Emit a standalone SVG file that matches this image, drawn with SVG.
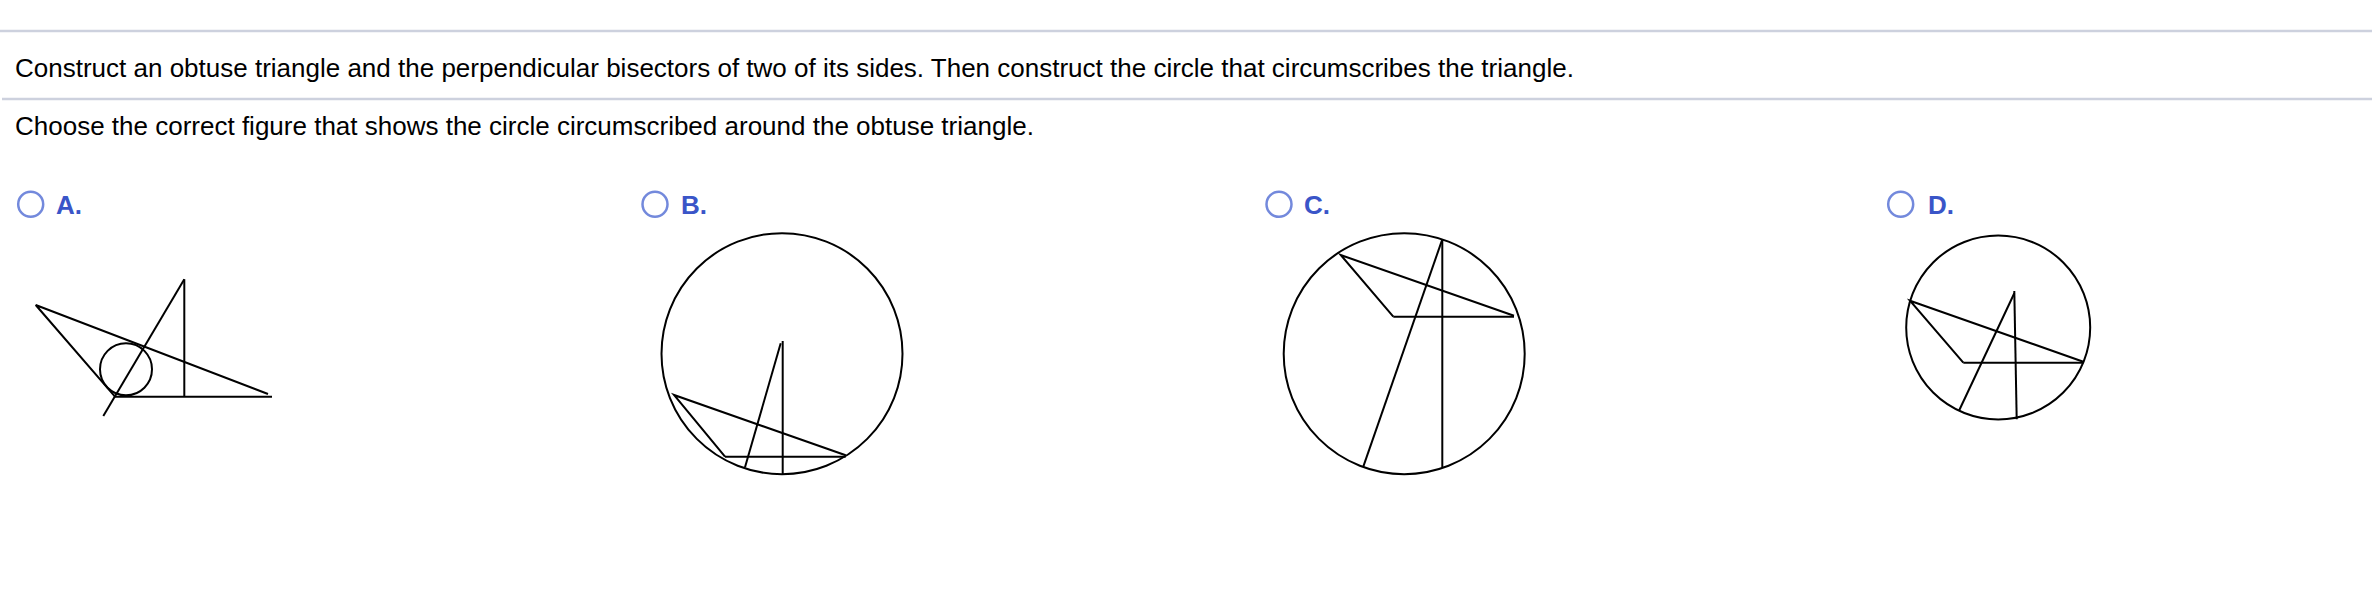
<svg xmlns="http://www.w3.org/2000/svg" width="2372" height="592" viewBox="0 0 2372 592">
<style>
.q{font-family:"Liberation Sans",Arial,sans-serif;font-size:26px;fill:#000}
.lbl{font-family:"Liberation Sans",Arial,sans-serif;font-size:26px;font-weight:bold;fill:#3a55c8}
.radio{fill:none;stroke:#7389dc;stroke-width:2.5}
.sep{stroke:#cdd1de;stroke-width:2.5}
.fig{fill:none;stroke:#000;stroke-width:2;stroke-linecap:butt;stroke-linejoin:miter}
</style>
<rect width="2372" height="592" fill="#fff"/>
<line class="sep" x1="0" y1="31" x2="2372" y2="31"/>
<line class="sep" x1="2" y1="99" x2="2372" y2="99"/>
<text class="q" x="15" y="77">Construct an obtuse triangle and the perpendicular bisectors of two of its sides. Then construct the circle that circumscribes the triangle.</text>
<text class="q" x="15" y="135">Choose the correct figure that shows the circle circumscribed around the obtuse triangle.</text>

<g id="optA">
<circle class="radio" cx="30.7" cy="204.3" r="12.5"/>
<text class="lbl" x="56" y="213.5">A.</text>
<g class="fig">
<polyline points="268,394 35.7,305 115,396.7"/>
<line x1="114" y1="396.7" x2="272" y2="396.7"/>
<line x1="184.3" y1="279.3" x2="184.3" y2="396.7"/>
<line x1="184.3" y1="279.3" x2="103.3" y2="416"/>
<circle cx="126" cy="369.3" r="26"/>
</g>
</g>

<g id="optB">
<circle class="radio" cx="655" cy="204.3" r="12.5"/>
<text class="lbl" x="681" y="213.5">B.</text>
<g class="fig">
<circle cx="782" cy="353.7" r="120.5"/>
<polyline points="845.7,455.3 674,395 725,456.7"/>
<line x1="725" y1="456.7" x2="845.7" y2="456.7"/>
<line x1="782.7" y1="341" x2="782.7" y2="474"/>
<line x1="780.7" y1="343.3" x2="745" y2="467.3"/>
</g>
</g>

<g id="optC">
<circle class="radio" cx="1279" cy="204.3" r="12.5"/>
<text class="lbl" x="1304" y="213.5">C.</text>
<g class="fig">
<circle cx="1404.2" cy="353.7" r="120.5"/>
<polyline points="1514,315.7 1340.7,255 1393.3,316.7"/>
<line x1="1393.3" y1="316.7" x2="1514" y2="316.7"/>
<line x1="1442.3" y1="239.3" x2="1442.3" y2="467.3"/>
<line x1="1442.3" y1="239.3" x2="1363.3" y2="466.7"/>
</g>
</g>

<g id="optD">
<circle class="radio" cx="1900.7" cy="204.3" r="12.5"/>
<text class="lbl" x="1928" y="213.5">D.</text>
<g class="fig">
<circle cx="1998.2" cy="327.5" r="92"/>
<polyline points="2083.3,361.7 1910,300.7 1963.3,362.7"/>
<line x1="1963.3" y1="362.7" x2="2083.3" y2="362.7"/>
<line x1="2014.3" y1="291" x2="2016.7" y2="419.3"/>
<line x1="2014.3" y1="293.3" x2="1959" y2="410.7"/>
</g>
</g>
</svg>
